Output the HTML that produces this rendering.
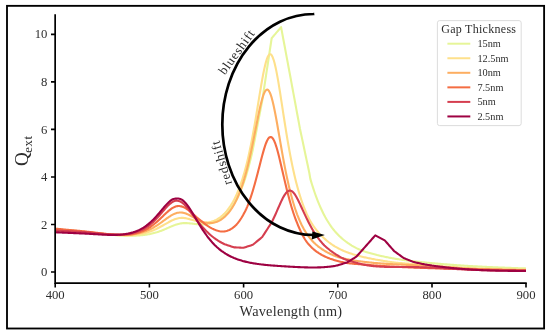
<!DOCTYPE html>
<html lang="en">
<head>
<meta charset="utf-8">
<title>Q_ext vs Wavelength</title>
<style>
html,body{margin:0;padding:0;background:#fff;}
body{width:550px;height:335px;overflow:hidden;}
svg{display:block;}
text{font-family:"Liberation Serif","DejaVu Serif",serif;fill:#2e2e2e;}
.tick{font-size:12.7px;}
.curves path{fill:none;stroke-width:2.1;stroke-linejoin:round;stroke-linecap:butt;}
</style>
</head>
<body>
<svg width="550" height="335" viewBox="0 0 550 335">
<rect x="0" y="0" width="550" height="335" fill="#ffffff"/>
<!-- outer frame -->
<rect x="7" y="5.85" width="537.1" height="322.65" fill="none" stroke="#000" stroke-width="1.85"/>
<!-- curves -->
<g class="curves">
<path d="M55.00 230.56 L55.94 230.62 L56.88 230.68 L57.83 230.74 L58.77 230.80 L59.71 230.86 L60.65 230.92 L61.59 230.98 L62.54 231.04 L63.48 231.10 L64.42 231.16 L65.36 231.22 L66.30 231.28 L67.25 231.34 L68.19 231.40 L69.13 231.46 L70.07 231.52 L71.01 231.58 L71.96 231.64 L72.90 231.70 L73.84 231.76 L74.78 231.83 L75.72 231.89 L76.67 231.95 L77.61 232.02 L78.55 232.08 L79.49 232.15 L80.43 232.21 L81.38 232.28 L82.32 232.35 L83.26 232.42 L84.20 232.48 L85.14 232.56 L86.09 232.63 L87.03 232.70 L87.97 232.77 L88.91 232.85 L89.85 232.92 L90.80 233.00 L91.74 233.07 L92.68 233.15 L93.62 233.23 L94.56 233.31 L95.51 233.39 L96.45 233.48 L97.39 233.56 L98.33 233.64 L99.27 233.73 L100.22 233.81 L101.16 233.90 L102.10 233.98 L103.04 234.07 L103.98 234.15 L104.93 234.23 L105.87 234.32 L106.81 234.40 L107.75 234.48 L108.69 234.56 L109.64 234.64 L110.58 234.72 L111.52 234.79 L112.46 234.87 L113.40 234.94 L114.35 235.01 L115.29 235.08 L116.23 235.15 L117.17 235.21 L118.11 235.27 L119.06 235.33 L120.00 235.39 L120.94 235.44 L121.88 235.49 L122.82 235.53 L123.77 235.57 L124.71 235.61 L125.65 235.64 L126.59 235.66 L127.53 235.69 L128.48 235.70 L129.42 235.71 L130.36 235.72 L131.30 235.72 L132.24 235.71 L133.19 235.70 L134.13 235.67 L135.07 235.65 L136.01 235.61 L136.95 235.57 L137.90 235.52 L138.84 235.46 L139.78 235.39 L140.72 235.31 L141.66 235.23 L142.61 235.13 L143.55 235.02 L144.49 234.91 L145.43 234.78 L146.37 234.64 L147.32 234.49 L148.26 234.33 L149.20 234.16 L150.14 233.97 L151.08 233.77 L152.03 233.55 L152.97 233.33 L153.91 233.09 L154.85 232.83 L155.79 232.56 L156.74 232.28 L157.68 231.98 L158.62 231.67 L159.56 231.34 L160.50 231.00 L161.45 230.65 L162.39 230.28 L163.33 229.91 L164.27 229.52 L165.21 229.12 L166.16 228.72 L167.10 228.31 L168.04 227.89 L168.98 227.48 L169.92 227.07 L170.87 226.66 L171.81 226.26 L172.75 225.87 L173.69 225.49 L174.63 225.14 L175.58 224.80 L176.52 224.49 L177.46 224.21 L178.40 223.95 L179.34 223.73 L180.29 223.54 L181.23 223.38 L182.17 223.26 L183.11 223.17 L184.05 223.12 L185.00 223.09 L185.94 223.09 L186.88 223.12 L187.82 223.18 L188.76 223.25 L189.71 223.33 L190.65 223.43 L191.59 223.54 L192.53 223.65 L193.47 223.77 L194.42 223.88 L195.36 223.99 L196.30 224.08 L197.24 224.17 L198.18 224.25 L199.13 224.31 L200.07 224.36 L201.01 224.39 L201.95 224.39 L202.89 224.38 L203.84 224.34 L204.78 224.28 L205.72 224.20 L206.66 224.09 L207.60 223.96 L208.55 223.80 L209.49 223.61 L210.43 223.39 L211.37 223.14 L212.31 222.86 L213.26 222.54 L214.20 222.19 L215.14 221.81 L216.08 221.39 L217.02 220.93 L217.97 220.43 L218.91 219.89 L219.85 219.31 L220.79 218.69 L221.73 218.01 L222.68 217.30 L223.62 216.53 L224.56 215.71 L225.50 214.83 L226.44 213.90 L227.39 212.91 L228.33 211.85 L229.27 210.74 L230.21 209.55 L231.15 208.29 L232.10 206.96 L233.04 205.55 L233.98 204.06 L234.92 202.48 L235.86 200.81 L236.81 199.05 L237.75 197.19 L238.69 195.22 L239.63 193.14 L240.57 190.95 L241.52 188.64 L242.46 186.20 L243.40 183.63 L244.34 180.92 L245.28 178.07 L246.23 175.07 L247.17 171.92 L248.11 168.60 L249.05 165.12 L249.99 161.47 L250.94 157.65 L251.88 153.64 L252.82 149.45 L253.76 144.57 L254.70 139.69 L255.65 134.81 L256.59 129.93 L257.53 125.04 L258.47 120.16 L259.41 115.28 L260.36 110.40 L261.30 105.52 L262.24 100.64 L263.18 94.40 L264.12 88.17 L265.07 81.93 L266.01 75.70 L266.95 69.46 L267.89 63.23 L268.83 56.99 L269.78 50.76 L270.72 44.52 L271.66 38.28 L272.60 37.17 L273.54 36.05 L274.49 34.93 L275.43 33.81 L276.37 32.69 L277.31 31.57 L278.25 30.45 L279.20 29.34 L280.14 28.22 L281.08 27.10 L282.02 32.14 L282.96 37.19 L283.91 42.23 L284.85 47.28 L285.79 52.33 L286.73 57.37 L287.67 62.42 L288.62 67.46 L289.56 72.51 L290.50 77.55 L291.44 82.65 L292.38 87.74 L293.33 92.83 L294.27 97.93 L295.21 103.02 L296.15 108.11 L297.09 113.21 L298.04 118.30 L298.98 123.39 L299.92 128.49 L300.86 132.94 L301.80 137.39 L302.75 141.84 L303.69 146.29 L304.63 150.74 L305.57 155.19 L306.51 159.64 L307.46 164.09 L308.40 168.54 L309.34 172.99 L310.28 178.59 L311.22 181.84 L312.17 184.96 L313.11 187.94 L314.05 190.79 L314.99 193.52 L315.93 196.13 L316.88 198.62 L317.82 201.01 L318.76 203.29 L319.70 205.55 L320.64 207.71 L321.59 209.78 L322.53 211.76 L323.47 213.66 L324.41 215.48 L325.35 217.23 L326.30 218.90 L327.24 220.51 L328.18 222.04 L329.12 223.52 L330.06 224.93 L331.01 226.28 L331.95 227.58 L332.89 228.82 L333.83 230.01 L334.77 231.15 L335.72 232.24 L336.66 233.28 L337.60 234.28 L338.54 235.24 L339.48 236.16 L340.43 237.05 L341.37 237.90 L342.31 238.73 L343.25 239.52 L344.19 240.29 L345.14 241.03 L346.08 241.75 L347.02 242.44 L347.96 243.10 L348.90 243.74 L349.85 244.37 L350.79 244.97 L351.73 245.55 L352.67 246.10 L353.61 246.64 L354.56 247.16 L355.50 247.65 L356.44 248.13 L357.38 248.58 L358.32 249.02 L359.27 249.44 L360.21 249.84 L361.15 250.22 L362.09 250.59 L363.03 250.95 L363.98 251.29 L364.92 251.62 L365.86 251.93 L366.80 252.23 L367.74 252.52 L368.69 252.80 L369.63 253.06 L370.57 253.32 L371.51 253.56 L372.45 253.79 L373.40 254.02 L374.34 254.23 L375.28 254.44 L376.22 254.70 L377.16 254.96 L378.11 255.20 L379.05 255.44 L379.99 255.68 L380.93 255.90 L381.87 256.13 L382.82 256.34 L383.76 256.55 L384.70 256.76 L385.64 256.96 L386.58 257.15 L387.53 257.34 L388.47 257.52 L389.41 257.70 L390.35 257.88 L391.29 258.05 L392.24 258.22 L393.18 258.38 L394.12 258.54 L395.06 258.70 L396.00 258.85 L396.95 259.00 L397.89 259.15 L398.83 259.29 L399.77 259.43 L400.71 259.57 L401.66 259.71 L402.60 259.84 L403.54 259.97 L404.48 260.10 L405.42 260.22 L406.37 260.35 L407.31 260.47 L408.25 260.59 L409.19 260.70 L410.13 260.82 L411.08 260.93 L412.02 261.05 L412.96 261.16 L413.90 261.27 L414.84 261.37 L415.79 261.48 L416.73 261.59 L417.67 261.69 L418.61 261.79 L419.55 261.89 L420.50 261.99 L421.44 262.09 L422.38 262.19 L423.32 262.29 L424.26 262.38 L425.21 262.48 L426.15 262.57 L427.09 262.67 L428.03 262.76 L428.97 262.85 L429.92 262.94 L430.86 263.03 L431.80 263.12 L432.74 263.20 L433.68 263.29 L434.63 263.38 L435.57 263.46 L436.51 263.54 L437.45 263.63 L438.39 263.71 L439.34 263.79 L440.28 263.87 L441.22 263.95 L442.16 264.03 L443.10 264.11 L444.05 264.18 L444.99 264.26 L445.93 264.34 L446.87 264.41 L447.81 264.48 L448.76 264.56 L449.70 264.63 L450.64 264.70 L451.58 264.77 L452.52 264.84 L453.47 264.91 L454.41 264.98 L455.35 265.05 L456.29 265.12 L457.23 265.19 L458.18 265.25 L459.12 265.32 L460.06 265.38 L461.00 265.44 L461.94 265.51 L462.89 265.57 L463.83 265.63 L464.77 265.69 L465.71 265.75 L466.65 265.81 L467.60 265.87 L468.54 265.93 L469.48 265.99 L470.42 266.04 L471.36 266.10 L472.31 266.15 L473.25 266.21 L474.19 266.26 L475.13 266.31 L476.07 266.37 L477.02 266.42 L477.96 266.47 L478.90 266.52 L479.84 266.57 L480.78 266.62 L481.73 266.67 L482.67 266.71 L483.61 266.76 L484.55 266.81 L485.49 266.85 L486.44 266.90 L487.38 266.94 L488.32 266.99 L489.26 267.03 L490.20 267.08 L491.15 267.12 L492.09 267.16 L493.03 267.20 L493.97 267.24 L494.91 267.29 L495.86 267.33 L496.80 267.37 L497.74 267.41 L498.68 267.45 L499.62 267.48 L500.57 267.52 L501.51 267.56 L502.45 267.60 L503.39 267.64 L504.33 267.67 L505.28 267.71 L506.22 267.75 L507.16 267.78 L508.10 267.82 L509.04 267.85 L509.99 267.89 L510.93 267.92 L511.87 267.96 L512.81 267.99 L513.75 268.02 L514.70 268.06 L515.64 268.09 L516.58 268.12 L517.52 268.16 L518.46 268.19 L519.41 268.22 L520.35 268.25 L521.29 268.29 L522.23 268.32 L523.17 268.35 L524.12 268.38 L525.06 268.41 L526.00 268.44" stroke="#e6f598"/>
<path d="M55.00 230.09 L55.94 230.15 L56.88 230.21 L57.83 230.27 L58.77 230.33 L59.71 230.39 L60.65 230.45 L61.59 230.51 L62.54 230.57 L63.48 230.63 L64.42 230.69 L65.36 230.74 L66.30 230.80 L67.25 230.86 L68.19 230.92 L69.13 230.98 L70.07 231.04 L71.01 231.10 L71.96 231.17 L72.90 231.23 L73.84 231.29 L74.78 231.36 L75.72 231.42 L76.67 231.49 L77.61 231.55 L78.55 231.62 L79.49 231.69 L80.43 231.76 L81.38 231.83 L82.32 231.90 L83.26 231.98 L84.20 232.05 L85.14 232.13 L86.09 232.21 L87.03 232.29 L87.97 232.37 L88.91 232.45 L89.85 232.54 L90.80 232.62 L91.74 232.71 L92.68 232.80 L93.62 232.89 L94.56 232.98 L95.51 233.08 L96.45 233.17 L97.39 233.27 L98.33 233.36 L99.27 233.46 L100.22 233.56 L101.16 233.66 L102.10 233.75 L103.04 233.85 L103.98 233.95 L104.93 234.04 L105.87 234.13 L106.81 234.23 L107.75 234.32 L108.69 234.41 L109.64 234.49 L110.58 234.58 L111.52 234.66 L112.46 234.74 L113.40 234.81 L114.35 234.89 L115.29 234.95 L116.23 235.02 L117.17 235.08 L118.11 235.13 L119.06 235.18 L120.00 235.22 L120.94 235.26 L121.88 235.29 L122.82 235.32 L123.77 235.33 L124.71 235.34 L125.65 235.35 L126.59 235.34 L127.53 235.33 L128.48 235.31 L129.42 235.27 L130.36 235.23 L131.30 235.18 L132.24 235.12 L133.19 235.04 L134.13 234.96 L135.07 234.86 L136.01 234.76 L136.95 234.64 L137.90 234.50 L138.84 234.36 L139.78 234.20 L140.72 234.03 L141.66 233.84 L142.61 233.64 L143.55 233.43 L144.49 233.20 L145.43 232.96 L146.37 232.70 L147.32 232.42 L148.26 232.13 L149.20 231.82 L150.14 231.49 L151.08 231.15 L152.03 230.79 L152.97 230.41 L153.91 230.02 L154.85 229.60 L155.79 229.18 L156.74 228.73 L157.68 228.27 L158.62 227.79 L159.56 227.30 L160.50 226.80 L161.45 226.29 L162.39 225.76 L163.33 225.23 L164.27 224.69 L165.21 224.15 L166.16 223.61 L167.10 223.07 L168.04 222.54 L168.98 222.02 L169.92 221.51 L170.87 221.03 L171.81 220.56 L172.75 220.12 L173.69 219.71 L174.63 219.34 L175.58 219.00 L176.52 218.70 L177.46 218.45 L178.40 218.24 L179.34 218.08 L180.29 217.97 L181.23 217.91 L182.17 217.89 L183.11 217.92 L184.05 217.99 L185.00 218.10 L185.94 218.25 L186.88 218.44 L187.82 218.65 L188.76 218.89 L189.71 219.14 L190.65 219.41 L191.59 219.70 L192.53 219.98 L193.47 220.27 L194.42 220.55 L195.36 220.83 L196.30 221.10 L197.24 221.35 L198.18 221.58 L199.13 221.79 L200.07 221.98 L201.01 222.14 L201.95 222.27 L202.89 222.37 L203.84 222.44 L204.78 222.47 L205.72 222.47 L206.66 222.43 L207.60 222.36 L208.55 222.24 L209.49 222.09 L210.43 221.90 L211.37 221.66 L212.31 221.38 L213.26 221.06 L214.20 220.69 L215.14 220.28 L216.08 219.83 L217.02 219.32 L217.97 218.77 L218.91 218.17 L219.85 217.51 L220.79 216.81 L221.73 216.04 L222.68 215.23 L223.62 214.35 L224.56 213.41 L225.50 212.41 L226.44 211.34 L227.39 210.20 L228.33 208.99 L229.27 207.70 L230.21 206.33 L231.15 204.88 L232.10 203.34 L233.04 201.71 L233.98 199.98 L234.92 198.14 L235.86 196.20 L236.81 194.14 L237.75 191.96 L238.69 189.65 L239.63 187.20 L240.57 184.61 L241.52 181.88 L242.46 178.98 L243.40 175.93 L244.34 172.70 L245.28 169.29 L246.23 165.69 L247.17 161.90 L248.11 157.91 L249.05 153.72 L249.99 149.32 L250.94 144.71 L251.88 139.91 L252.82 134.90 L253.76 129.71 L254.70 124.35 L255.65 118.83 L256.59 113.20 L257.53 107.47 L258.47 101.71 L259.41 95.95 L260.36 90.25 L261.30 84.70 L262.24 79.35 L263.18 74.31 L264.12 69.64 L265.07 65.44 L266.01 61.80 L266.95 58.80 L267.89 56.50 L268.83 54.96 L269.78 54.23 L270.72 54.33 L271.66 55.26 L272.60 57.01 L273.54 59.53 L274.49 62.77 L275.43 66.66 L276.37 71.13 L277.31 76.08 L278.25 81.44 L279.20 87.11 L280.14 93.02 L281.08 99.07 L282.02 105.21 L282.96 111.36 L283.91 117.48 L284.85 123.52 L285.79 129.44 L286.73 135.21 L287.67 140.82 L288.62 146.23 L289.56 151.45 L290.50 156.47 L291.44 161.27 L292.38 165.86 L293.33 170.25 L294.27 174.43 L295.21 178.42 L296.15 182.21 L297.09 185.81 L298.04 189.24 L298.98 192.50 L299.92 195.60 L300.86 198.54 L301.80 201.33 L302.75 203.99 L303.69 206.51 L304.63 208.91 L305.57 211.19 L306.51 213.36 L307.46 215.42 L308.40 217.39 L309.34 219.26 L310.28 220.94 L311.22 222.54 L312.17 224.05 L313.11 225.50 L314.05 226.87 L314.99 228.18 L315.93 229.43 L316.88 230.62 L317.82 231.76 L318.76 232.85 L319.70 233.90 L320.64 234.90 L321.59 235.86 L322.53 236.79 L323.47 237.68 L324.41 238.54 L325.35 239.37 L326.30 240.18 L327.24 240.97 L328.18 241.73 L329.12 242.47 L330.06 243.17 L331.01 243.85 L331.95 244.51 L332.89 245.14 L333.83 245.74 L334.77 246.33 L335.72 246.89 L336.66 247.43 L337.60 247.95 L338.54 248.45 L339.48 248.93 L340.43 249.40 L341.37 249.85 L342.31 250.28 L343.25 250.70 L344.19 251.10 L345.14 251.49 L346.08 251.87 L347.02 252.23 L347.96 252.58 L348.90 252.92 L349.85 253.25 L350.79 253.56 L351.73 253.87 L352.67 254.16 L353.61 254.45 L354.56 254.73 L355.50 255.00 L356.44 255.27 L357.38 255.53 L358.32 255.78 L359.27 256.03 L360.21 256.27 L361.15 256.50 L362.09 256.73 L363.03 256.96 L363.98 257.18 L364.92 257.39 L365.86 257.60 L366.80 257.81 L367.74 258.01 L368.69 258.21 L369.63 258.40 L370.57 258.59 L371.51 258.78 L372.45 258.96 L373.40 259.14 L374.34 259.32 L375.28 259.49 L376.22 259.67 L377.16 259.83 L378.11 260.00 L379.05 260.16 L379.99 260.32 L380.93 260.48 L381.87 260.64 L382.82 260.80 L383.76 260.95 L384.70 261.10 L385.64 261.25 L386.58 261.40 L387.53 261.54 L388.47 261.69 L389.41 261.83 L390.35 261.97 L391.29 262.11 L392.24 262.25 L393.18 262.39 L394.12 262.52 L395.06 262.61 L396.00 262.69 L396.95 262.77 L397.89 262.85 L398.83 262.93 L399.77 263.00 L400.71 263.08 L401.66 263.15 L402.60 263.23 L403.54 263.30 L404.48 263.38 L405.42 263.45 L406.37 263.52 L407.31 263.60 L408.25 263.67 L409.19 263.74 L410.13 263.81 L411.08 263.88 L412.02 263.96 L412.96 264.03 L413.90 264.10 L414.84 264.17 L415.79 264.24 L416.73 264.32 L417.67 264.39 L418.61 264.46 L419.55 264.54 L420.50 264.61 L421.44 264.68 L422.38 264.76 L423.32 264.83 L424.26 264.90 L425.21 264.98 L426.15 265.05 L427.09 265.12 L428.03 265.20 L428.97 265.27 L429.92 265.34 L430.86 265.42 L431.80 265.49 L432.74 265.56 L433.68 265.64 L434.63 265.71 L435.57 265.78 L436.51 265.86 L437.45 265.93 L438.39 266.00 L439.34 266.07 L440.28 266.14 L441.22 266.22 L442.16 266.29 L443.10 266.36 L444.05 266.43 L444.99 266.50 L445.93 266.57 L446.87 266.64 L447.81 266.70 L448.76 266.77 L449.70 266.84 L450.64 266.91 L451.58 266.97 L452.52 267.04 L453.47 267.10 L454.41 267.17 L455.35 267.23 L456.29 267.29 L457.23 267.36 L458.18 267.42 L459.12 267.48 L460.06 267.54 L461.00 267.60 L461.94 267.65 L462.89 267.71 L463.83 267.77 L464.77 267.82 L465.71 267.88 L466.65 267.93 L467.60 267.98 L468.54 268.03 L469.48 268.08 L470.42 268.13 L471.36 268.18 L472.31 268.23 L473.25 268.27 L474.19 268.31 L475.13 268.36 L476.07 268.40 L477.02 268.44 L477.96 268.48 L478.90 268.52 L479.84 268.56 L480.78 268.60 L481.73 268.63 L482.67 268.67 L483.61 268.70 L484.55 268.74 L485.49 268.77 L486.44 268.80 L487.38 268.83 L488.32 268.86 L489.26 268.89 L490.20 268.92 L491.15 268.95 L492.09 268.98 L493.03 269.00 L493.97 269.03 L494.91 269.05 L495.86 269.08 L496.80 269.10 L497.74 269.12 L498.68 269.15 L499.62 269.17 L500.57 269.19 L501.51 269.21 L502.45 269.23 L503.39 269.25 L504.33 269.27 L505.28 269.29 L506.22 269.31 L507.16 269.33 L508.10 269.34 L509.04 269.36 L509.99 269.38 L510.93 269.39 L511.87 269.41 L512.81 269.43 L513.75 269.44 L514.70 269.46 L515.64 269.47 L516.58 269.49 L517.52 269.50 L518.46 269.51 L519.41 269.53 L520.35 269.54 L521.29 269.55 L522.23 269.57 L523.17 269.58 L524.12 269.59 L525.06 269.60 L526.00 269.62" stroke="#fee08b"/>
<path d="M55.00 229.14 L55.94 229.22 L56.88 229.30 L57.83 229.38 L58.77 229.46 L59.71 229.54 L60.65 229.62 L61.59 229.70 L62.54 229.78 L63.48 229.86 L64.42 229.94 L65.36 230.01 L66.30 230.09 L67.25 230.17 L68.19 230.25 L69.13 230.33 L70.07 230.41 L71.01 230.49 L71.96 230.57 L72.90 230.65 L73.84 230.73 L74.78 230.81 L75.72 230.89 L76.67 230.97 L77.61 231.06 L78.55 231.14 L79.49 231.23 L80.43 231.31 L81.38 231.40 L82.32 231.49 L83.26 231.58 L84.20 231.67 L85.14 231.76 L86.09 231.85 L87.03 231.94 L87.97 232.04 L88.91 232.14 L89.85 232.23 L90.80 232.33 L91.74 232.43 L92.68 232.53 L93.62 232.63 L94.56 232.74 L95.51 232.84 L96.45 232.95 L97.39 233.05 L98.33 233.16 L99.27 233.26 L100.22 233.37 L101.16 233.47 L102.10 233.58 L103.04 233.68 L103.98 233.78 L104.93 233.88 L105.87 233.98 L106.81 234.07 L107.75 234.16 L108.69 234.25 L109.64 234.34 L110.58 234.42 L111.52 234.50 L112.46 234.57 L113.40 234.64 L114.35 234.71 L115.29 234.77 L116.23 234.82 L117.17 234.87 L118.11 234.91 L119.06 234.95 L120.00 234.97 L120.94 234.99 L121.88 235.01 L122.82 235.01 L123.77 235.00 L124.71 234.99 L125.65 234.96 L126.59 234.93 L127.53 234.88 L128.48 234.82 L129.42 234.75 L130.36 234.67 L131.30 234.58 L132.24 234.47 L133.19 234.34 L134.13 234.21 L135.07 234.05 L136.01 233.89 L136.95 233.70 L137.90 233.51 L138.84 233.29 L139.78 233.06 L140.72 232.81 L141.66 232.54 L142.61 232.26 L143.55 231.95 L144.49 231.63 L145.43 231.29 L146.37 230.93 L147.32 230.54 L148.26 230.14 L149.20 229.71 L150.14 229.27 L151.08 228.80 L152.03 228.31 L152.97 227.80 L153.91 227.26 L154.85 226.71 L155.79 226.14 L156.74 225.54 L157.68 224.93 L158.62 224.30 L159.56 223.66 L160.50 223.00 L161.45 222.32 L162.39 221.64 L163.33 220.95 L164.27 220.26 L165.21 219.57 L166.16 218.89 L167.10 218.21 L168.04 217.55 L168.98 216.91 L169.92 216.29 L170.87 215.70 L171.81 215.15 L172.75 214.63 L173.69 214.16 L174.63 213.75 L175.58 213.39 L176.52 213.08 L177.46 212.84 L178.40 212.67 L179.34 212.56 L180.29 212.52 L181.23 212.54 L182.17 212.63 L183.11 212.78 L184.05 213.00 L185.00 213.27 L185.94 213.59 L186.88 213.96 L187.82 214.37 L188.76 214.82 L189.71 215.29 L190.65 215.79 L191.59 216.31 L192.53 216.83 L193.47 217.36 L194.42 217.89 L195.36 218.42 L196.30 218.93 L197.24 219.43 L198.18 219.91 L199.13 220.36 L200.07 220.79 L201.01 221.19 L201.95 221.56 L202.89 221.89 L203.84 222.18 L204.78 222.44 L205.72 222.65 L206.66 222.82 L207.60 222.95 L208.55 223.04 L209.49 223.08 L210.43 223.07 L211.37 223.02 L212.31 222.92 L213.26 222.77 L214.20 222.57 L215.14 222.32 L216.08 222.03 L217.02 221.68 L217.97 221.28 L218.91 220.83 L219.85 220.32 L220.79 219.76 L221.73 219.13 L222.68 218.45 L223.62 217.71 L224.56 216.91 L225.50 216.03 L226.44 215.09 L227.39 214.08 L228.33 212.99 L229.27 211.83 L230.21 210.58 L231.15 209.25 L232.10 207.83 L233.04 206.31 L233.98 204.69 L234.92 202.97 L235.86 201.14 L236.81 199.19 L237.75 197.12 L238.69 194.93 L239.63 192.60 L240.57 190.13 L241.52 187.51 L242.46 184.74 L243.40 181.82 L244.34 178.73 L245.28 175.47 L246.23 172.04 L247.17 168.43 L248.11 164.65 L249.05 160.69 L249.99 156.56 L250.94 152.27 L251.88 147.83 L252.82 143.25 L253.76 138.57 L254.70 133.80 L255.65 128.99 L256.59 124.19 L257.53 119.43 L258.47 114.79 L259.41 110.32 L260.36 106.10 L261.30 102.21 L262.24 98.71 L263.18 95.69 L264.12 93.22 L265.07 91.35 L266.01 90.15 L266.95 89.64 L267.89 89.85 L268.83 90.78 L269.78 92.42 L270.72 94.74 L271.66 97.69 L272.60 101.21 L273.54 105.23 L274.49 109.67 L275.43 114.47 L276.37 119.54 L277.31 124.80 L278.25 130.20 L279.20 135.66 L280.14 141.12 L281.08 146.55 L282.02 151.89 L282.96 157.12 L283.91 162.21 L284.85 167.13 L285.79 171.88 L286.73 176.44 L287.67 180.81 L288.62 184.99 L289.56 188.97 L290.50 192.75 L291.44 196.35 L292.38 199.76 L293.33 202.99 L294.27 206.05 L295.21 208.95 L296.15 211.68 L297.09 214.27 L298.04 216.71 L298.98 219.02 L299.92 221.20 L300.86 223.26 L301.80 225.21 L302.75 227.04 L303.69 228.78 L304.63 230.42 L305.57 231.96 L306.51 233.43 L307.46 234.81 L308.40 236.13 L309.34 237.37 L310.28 238.54 L311.22 239.66 L312.17 240.72 L313.11 241.72 L314.05 242.68 L314.99 243.58 L315.93 244.45 L316.88 245.27 L317.82 246.06 L318.76 246.81 L319.70 247.53 L320.64 248.22 L321.59 248.88 L322.53 249.51 L323.47 250.11 L324.41 250.70 L325.35 251.26 L326.30 251.79 L327.24 252.31 L328.18 252.81 L329.12 253.29 L330.06 253.75 L331.01 254.19 L331.95 254.62 L332.89 255.03 L333.83 255.43 L334.77 255.81 L335.72 256.18 L336.66 256.54 L337.60 256.88 L338.54 257.16 L339.48 257.43 L340.43 257.68 L341.37 257.93 L342.31 258.16 L343.25 258.39 L344.19 258.61 L345.14 258.81 L346.08 259.02 L347.02 259.21 L347.96 259.39 L348.90 259.57 L349.85 259.75 L350.79 259.91 L351.73 260.08 L352.67 260.23 L353.61 260.38 L354.56 260.53 L355.50 260.67 L356.44 260.81 L357.38 260.94 L358.32 261.08 L359.27 261.20 L360.21 261.33 L361.15 261.45 L362.09 261.57 L363.03 261.69 L363.98 261.81 L364.92 261.92 L365.86 262.04 L366.80 262.15 L367.74 262.26 L368.69 262.37 L369.63 262.47 L370.57 262.57 L371.51 262.66 L372.45 262.76 L373.40 262.85 L374.34 262.93 L375.28 263.01 L376.22 263.09 L377.16 263.17 L378.11 263.25 L379.05 263.32 L379.99 263.39 L380.93 263.46 L381.87 263.53 L382.82 263.59 L383.76 263.65 L384.70 263.72 L385.64 263.77 L386.58 263.83 L387.53 263.89 L388.47 263.94 L389.41 264.00 L390.35 264.05 L391.29 264.10 L392.24 264.15 L393.18 264.20 L394.12 264.25 L395.06 264.30 L396.00 264.35 L396.95 264.39 L397.89 264.44 L398.83 264.48 L399.77 264.53 L400.71 264.57 L401.66 264.62 L402.60 264.66 L403.54 264.70 L404.48 264.75 L405.42 264.79 L406.37 264.83 L407.31 264.88 L408.25 264.92 L409.19 264.97 L410.13 265.01 L411.08 265.06 L412.02 265.10 L412.96 265.15 L413.90 265.19 L414.84 265.24 L415.79 265.29 L416.73 265.33 L417.67 265.38 L418.61 265.43 L419.55 265.48 L420.50 265.54 L421.44 265.59 L422.38 265.64 L423.32 265.69 L424.26 265.75 L425.21 265.80 L426.15 265.86 L427.09 265.92 L428.03 265.97 L428.97 266.03 L429.92 266.09 L430.86 266.15 L431.80 266.21 L432.74 266.27 L433.68 266.33 L434.63 266.39 L435.57 266.45 L436.51 266.51 L437.45 266.57 L438.39 266.63 L439.34 266.69 L440.28 266.76 L441.22 266.82 L442.16 266.88 L443.10 266.95 L444.05 267.01 L444.99 267.07 L445.93 267.14 L446.87 267.20 L447.81 267.27 L448.76 267.33 L449.70 267.40 L450.64 267.46 L451.58 267.52 L452.52 267.59 L453.47 267.65 L454.41 267.72 L455.35 267.78 L456.29 267.85 L457.23 267.91 L458.18 267.97 L459.12 268.04 L460.06 268.10 L461.00 268.16 L461.94 268.23 L462.89 268.29 L463.83 268.35 L464.77 268.41 L465.71 268.47 L466.65 268.53 L467.60 268.59 L468.54 268.65 L469.48 268.71 L470.42 268.75 L471.36 268.78 L472.31 268.82 L473.25 268.85 L474.19 268.89 L475.13 268.92 L476.07 268.95 L477.02 268.99 L477.96 269.02 L478.90 269.05 L479.84 269.08 L480.78 269.11 L481.73 269.14 L482.67 269.17 L483.61 269.20 L484.55 269.22 L485.49 269.25 L486.44 269.28 L487.38 269.30 L488.32 269.33 L489.26 269.36 L490.20 269.38 L491.15 269.41 L492.09 269.43 L493.03 269.45 L493.97 269.48 L494.91 269.50 L495.86 269.52 L496.80 269.54 L497.74 269.56 L498.68 269.59 L499.62 269.61 L500.57 269.63 L501.51 269.65 L502.45 269.67 L503.39 269.69 L504.33 269.71 L505.28 269.73 L506.22 269.74 L507.16 269.76 L508.10 269.78 L509.04 269.80 L509.99 269.82 L510.93 269.83 L511.87 269.85 L512.81 269.87 L513.75 269.88 L514.70 269.90 L515.64 269.92 L516.58 269.93 L517.52 269.95 L518.46 269.96 L519.41 269.98 L520.35 270.00 L521.29 270.01 L522.23 270.03 L523.17 270.04 L524.12 270.06 L525.06 270.07 L526.00 270.08" stroke="#fdae61"/>
<path d="M55.00 228.65 L55.94 228.74 L56.88 228.83 L57.83 228.91 L58.77 229.00 L59.71 229.09 L60.65 229.17 L61.59 229.26 L62.54 229.34 L63.48 229.43 L64.42 229.51 L65.36 229.60 L66.30 229.68 L67.25 229.77 L68.19 229.85 L69.13 229.94 L70.07 230.02 L71.01 230.11 L71.96 230.20 L72.90 230.28 L73.84 230.37 L74.78 230.46 L75.72 230.55 L76.67 230.64 L77.61 230.73 L78.55 230.82 L79.49 230.91 L80.43 231.01 L81.38 231.10 L82.32 231.20 L83.26 231.29 L84.20 231.39 L85.14 231.49 L86.09 231.59 L87.03 231.69 L87.97 231.80 L88.91 231.90 L89.85 232.01 L90.80 232.12 L91.74 232.23 L92.68 232.34 L93.62 232.45 L94.56 232.56 L95.51 232.68 L96.45 232.79 L97.39 232.91 L98.33 233.02 L99.27 233.14 L100.22 233.25 L101.16 233.36 L102.10 233.48 L103.04 233.59 L103.98 233.70 L104.93 233.80 L105.87 233.91 L106.81 234.01 L107.75 234.11 L108.69 234.20 L109.64 234.29 L110.58 234.38 L111.52 234.46 L112.46 234.54 L113.40 234.61 L114.35 234.68 L115.29 234.74 L116.23 234.79 L117.17 234.83 L118.11 234.87 L119.06 234.90 L120.00 234.92 L120.94 234.93 L121.88 234.93 L122.82 234.92 L123.77 234.90 L124.71 234.87 L125.65 234.82 L126.59 234.76 L127.53 234.69 L128.48 234.61 L129.42 234.51 L130.36 234.39 L131.30 234.26 L132.24 234.11 L133.19 233.94 L134.13 233.76 L135.07 233.55 L136.01 233.33 L136.95 233.08 L137.90 232.81 L138.84 232.52 L139.78 232.21 L140.72 231.87 L141.66 231.51 L142.61 231.12 L143.55 230.71 L144.49 230.27 L145.43 229.80 L146.37 229.31 L147.32 228.78 L148.26 228.23 L149.20 227.64 L150.14 227.03 L151.08 226.39 L152.03 225.71 L152.97 225.01 L153.91 224.28 L154.85 223.52 L155.79 222.73 L156.74 221.92 L157.68 221.09 L158.62 220.23 L159.56 219.36 L160.50 218.47 L161.45 217.57 L162.39 216.66 L163.33 215.75 L164.27 214.85 L165.21 213.95 L166.16 213.06 L167.10 212.20 L168.04 211.37 L168.98 210.57 L169.92 209.81 L170.87 209.11 L171.81 208.46 L172.75 207.88 L173.69 207.37 L174.63 206.94 L175.58 206.59 L176.52 206.32 L177.46 206.15 L178.40 206.07 L179.34 206.07 L180.29 206.17 L181.23 206.36 L182.17 206.63 L183.11 206.98 L184.05 207.41 L185.00 207.91 L185.94 208.47 L186.88 209.09 L187.82 209.77 L188.76 210.48 L189.71 211.23 L190.65 212.01 L191.59 212.80 L192.53 213.62 L193.47 214.44 L194.42 215.27 L195.36 216.10 L196.30 216.92 L197.24 217.74 L198.18 218.54 L199.13 219.32 L200.07 220.09 L201.01 220.83 L201.95 221.63 L202.89 222.40 L203.84 223.15 L204.78 223.87 L205.72 224.56 L206.66 225.22 L207.60 225.86 L208.55 226.47 L209.49 227.04 L210.43 227.59 L211.37 228.10 L212.31 228.59 L213.26 229.03 L214.20 229.46 L215.14 229.85 L216.08 230.22 L217.02 230.55 L217.97 230.85 L218.91 231.10 L219.85 231.30 L220.79 231.44 L221.73 231.52 L222.68 231.54 L223.62 231.50 L224.56 231.39 L225.50 231.22 L226.44 230.99 L227.39 230.70 L228.33 230.35 L229.27 229.94 L230.21 229.47 L231.15 228.94 L232.10 228.34 L233.04 227.67 L233.98 226.94 L234.92 226.12 L235.86 225.21 L236.81 224.19 L237.75 223.09 L238.69 221.89 L239.63 220.61 L240.57 219.23 L241.52 217.77 L242.46 216.22 L243.40 214.59 L244.34 212.85 L245.28 210.98 L246.23 208.98 L247.17 206.83 L248.11 204.53 L249.05 202.08 L249.99 199.47 L250.94 196.71 L251.88 193.78 L252.82 190.69 L253.76 187.48 L254.70 184.17 L255.65 180.77 L256.59 177.27 L257.53 173.70 L258.47 170.07 L259.41 166.41 L260.36 162.74 L261.30 159.10 L262.24 155.54 L263.18 152.10 L264.12 148.85 L265.07 145.86 L266.01 143.22 L266.95 140.99 L267.89 139.21 L268.83 137.93 L269.78 137.17 L270.72 136.96 L271.66 137.29 L272.60 138.18 L273.54 139.61 L274.49 141.55 L275.43 143.97 L276.37 146.83 L277.31 150.07 L278.25 153.60 L279.20 157.34 L280.14 161.23 L281.08 165.23 L282.02 169.28 L282.96 173.34 L283.91 177.38 L284.85 181.38 L285.79 185.31 L286.73 189.16 L287.67 192.92 L288.62 196.58 L289.56 200.12 L290.50 203.51 L291.44 206.73 L292.38 209.80 L293.33 212.71 L294.27 215.47 L295.21 218.08 L296.15 220.57 L297.09 222.98 L298.04 225.30 L298.98 227.52 L299.92 229.64 L300.86 231.67 L301.80 233.60 L302.75 235.42 L303.69 237.13 L304.63 238.73 L305.57 240.22 L306.51 241.59 L307.46 242.83 L308.40 243.97 L309.34 245.06 L310.28 246.08 L311.22 247.04 L312.17 247.95 L313.11 248.81 L314.05 249.62 L314.99 250.39 L315.93 251.12 L316.88 251.82 L317.82 252.47 L318.76 253.10 L319.70 253.69 L320.64 254.25 L321.59 254.79 L322.53 255.30 L323.47 255.79 L324.41 256.26 L325.35 256.70 L326.30 257.12 L327.24 257.53 L328.18 257.91 L329.12 258.28 L330.06 258.64 L331.01 258.97 L331.95 259.30 L332.89 259.61 L333.83 259.91 L334.77 260.19 L335.72 260.47 L336.66 260.73 L337.60 260.98 L338.54 261.23 L339.48 261.46 L340.43 261.68 L341.37 261.90 L342.31 262.11 L343.25 262.31 L344.19 262.49 L345.14 262.66 L346.08 262.82 L347.02 262.97 L347.96 263.10 L348.90 263.23 L349.85 263.35 L350.79 263.46 L351.73 263.56 L352.67 263.66 L353.61 263.75 L354.56 263.84 L355.50 263.92 L356.44 264.00 L357.38 264.07 L358.32 264.15 L359.27 264.22 L360.21 264.29 L361.15 264.36 L362.09 264.43 L363.03 264.51 L363.98 264.58 L364.92 264.66 L365.86 264.74 L366.80 264.83 L367.74 264.91 L368.69 264.99 L369.63 265.06 L370.57 265.14 L371.51 265.21 L372.45 265.29 L373.40 265.36 L374.34 265.43 L375.28 265.50 L376.22 265.56 L377.16 265.63 L378.11 265.69 L379.05 265.76 L379.99 265.82 L380.93 265.88 L381.87 265.94 L382.82 266.00 L383.76 266.06 L384.70 266.12 L385.64 266.18 L386.58 266.23 L387.53 266.29 L388.47 266.34 L389.41 266.40 L390.35 266.45 L391.29 266.50 L392.24 266.56 L393.18 266.61 L394.12 266.66 L395.06 266.71 L396.00 266.76 L396.95 266.80 L397.89 266.85 L398.83 266.90 L399.77 266.95 L400.71 266.99 L401.66 267.04 L402.60 267.08 L403.54 267.13 L404.48 267.17 L405.42 267.21 L406.37 267.26 L407.31 267.30 L408.25 267.34 L409.19 267.38 L410.13 267.42 L411.08 267.46 L412.02 267.50 L412.96 267.54 L413.90 267.58 L414.84 267.61 L415.79 267.65 L416.73 267.69 L417.67 267.72 L418.61 267.76 L419.55 267.79 L420.50 267.83 L421.44 267.86 L422.38 267.90 L423.32 267.93 L424.26 267.97 L425.21 268.00 L426.15 268.03 L427.09 268.06 L428.03 268.10 L428.97 268.13 L429.92 268.16 L430.86 268.19 L431.80 268.22 L432.74 268.25 L433.68 268.28 L434.63 268.31 L435.57 268.34 L436.51 268.37 L437.45 268.40 L438.39 268.43 L439.34 268.46 L440.28 268.48 L441.22 268.51 L442.16 268.54 L443.10 268.56 L444.05 268.59 L444.99 268.62 L445.93 268.64 L446.87 268.67 L447.81 268.69 L448.76 268.72 L449.70 268.74 L450.64 268.76 L451.58 268.79 L452.52 268.81 L453.47 268.83 L454.41 268.86 L455.35 268.88 L456.29 268.90 L457.23 268.92 L458.18 268.94 L459.12 268.96 L460.06 268.98 L461.00 269.00 L461.94 269.02 L462.89 269.04 L463.83 269.05 L464.77 269.07 L465.71 269.09 L466.65 269.11 L467.60 269.12 L468.54 269.14 L469.48 269.15 L470.42 269.18 L471.36 269.21 L472.31 269.24 L473.25 269.26 L474.19 269.29 L475.13 269.32 L476.07 269.34 L477.02 269.37 L477.96 269.39 L478.90 269.41 L479.84 269.44 L480.78 269.46 L481.73 269.49 L482.67 269.51 L483.61 269.53 L484.55 269.56 L485.49 269.58 L486.44 269.60 L487.38 269.62 L488.32 269.64 L489.26 269.66 L490.20 269.68 L491.15 269.71 L492.09 269.73 L493.03 269.75 L493.97 269.77 L494.91 269.79 L495.86 269.80 L496.80 269.82 L497.74 269.84 L498.68 269.86 L499.62 269.88 L500.57 269.90 L501.51 269.92 L502.45 269.93 L503.39 269.95 L504.33 269.97 L505.28 269.99 L506.22 270.00 L507.16 270.02 L508.10 270.04 L509.04 270.05 L509.99 270.07 L510.93 270.09 L511.87 270.10 L512.81 270.12 L513.75 270.14 L514.70 270.15 L515.64 270.17 L516.58 270.18 L517.52 270.20 L518.46 270.21 L519.41 270.23 L520.35 270.24 L521.29 270.26 L522.23 270.27 L523.17 270.29 L524.12 270.30 L525.06 270.32 L526.00 270.33" stroke="#f46d43"/>
<path d="M55.00 230.49 L55.94 230.54 L56.88 230.59 L57.83 230.64 L58.77 230.68 L59.71 230.73 L60.65 230.78 L61.59 230.83 L62.54 230.88 L63.48 230.93 L64.42 230.98 L65.36 231.02 L66.30 231.07 L67.25 231.12 L68.19 231.17 L69.13 231.22 L70.07 231.27 L71.01 231.32 L71.96 231.37 L72.90 231.42 L73.84 231.47 L74.78 231.53 L75.72 231.58 L76.67 231.64 L77.61 231.69 L78.55 231.75 L79.49 231.80 L80.43 231.86 L81.38 231.92 L82.32 231.98 L83.26 232.04 L84.20 232.10 L85.14 232.17 L86.09 232.24 L87.03 232.31 L87.97 232.39 L88.91 232.47 L89.85 232.55 L90.80 232.64 L91.74 232.73 L92.68 232.82 L93.62 232.92 L94.56 233.01 L95.51 233.11 L96.45 233.21 L97.39 233.31 L98.33 233.41 L99.27 233.50 L100.22 233.60 L101.16 233.70 L102.10 233.79 L103.04 233.89 L103.98 233.98 L104.93 234.06 L105.87 234.15 L106.81 234.22 L107.75 234.30 L108.69 234.37 L109.64 234.43 L110.58 234.49 L111.52 234.54 L112.46 234.58 L113.40 234.61 L114.35 234.64 L115.29 234.65 L116.23 234.66 L117.17 234.66 L118.11 234.65 L119.06 234.63 L120.00 234.60 L120.94 234.56 L121.88 234.52 L122.82 234.46 L123.77 234.39 L124.71 234.31 L125.65 234.22 L126.59 234.12 L127.53 234.00 L128.48 233.87 L129.42 233.72 L130.36 233.55 L131.30 233.37 L132.24 233.18 L133.19 232.96 L134.13 232.72 L135.07 232.46 L136.01 232.18 L136.95 231.88 L137.90 231.55 L138.84 231.20 L139.78 230.82 L140.72 230.41 L141.66 229.98 L142.61 229.51 L143.55 229.01 L144.49 228.48 L145.43 227.92 L146.37 227.32 L147.32 226.69 L148.26 226.02 L149.20 225.32 L150.14 224.58 L151.08 223.80 L152.03 222.98 L152.97 222.13 L153.91 221.24 L154.85 220.31 L155.79 219.35 L156.74 218.36 L157.68 217.34 L158.62 216.29 L159.56 215.22 L160.50 214.13 L161.45 213.03 L162.39 211.92 L163.33 210.82 L164.27 209.72 L165.21 208.64 L166.16 207.58 L167.10 206.57 L168.04 205.59 L168.98 204.68 L169.92 203.83 L170.87 203.07 L171.81 202.39 L172.75 201.81 L173.69 201.35 L174.63 200.99 L175.58 200.76 L176.52 200.66 L177.46 200.69 L178.40 200.84 L179.34 201.13 L180.29 201.53 L181.23 202.06 L182.17 202.70 L183.11 203.45 L184.05 204.29 L185.00 205.22 L185.94 206.23 L186.88 207.30 L187.82 208.43 L188.76 209.60 L189.71 210.81 L190.65 212.04 L191.59 213.29 L192.53 214.55 L193.47 215.81 L194.42 217.07 L195.36 218.31 L196.30 219.54 L197.24 220.76 L198.18 221.95 L199.13 223.12 L200.07 224.26 L201.01 225.38 L201.95 226.46 L202.89 227.52 L203.84 228.55 L204.78 229.55 L205.72 230.52 L206.66 231.46 L207.60 232.37 L208.55 233.25 L209.49 234.11 L210.43 234.93 L211.37 235.73 L212.31 236.51 L213.26 237.25 L214.20 237.97 L215.14 238.66 L216.08 239.32 L217.02 239.96 L217.97 240.58 L218.91 241.17 L219.85 241.73 L220.79 242.27 L221.73 242.79 L222.68 243.28 L223.62 243.75 L224.56 244.20 L225.50 244.51 L226.44 244.82 L227.39 245.14 L228.33 245.45 L229.27 245.76 L230.21 246.08 L231.15 246.39 L232.10 246.70 L233.04 247.01 L233.98 247.33 L234.92 247.37 L235.86 247.42 L236.81 247.47 L237.75 247.51 L238.69 247.56 L239.63 247.60 L240.57 247.65 L241.52 247.69 L242.46 247.74 L243.40 247.79 L244.34 247.49 L245.28 247.18 L246.23 246.88 L247.17 246.58 L248.11 246.28 L249.05 245.98 L249.99 245.68 L250.94 245.38 L251.88 245.08 L252.82 244.78 L253.76 244.00 L254.70 243.23 L255.65 242.45 L256.59 241.67 L257.53 240.90 L258.47 240.12 L259.41 239.34 L260.36 238.57 L261.30 237.79 L262.24 237.01 L263.18 235.55 L264.12 234.09 L265.07 232.63 L266.01 231.17 L266.95 229.71 L267.89 228.25 L268.83 226.79 L269.78 225.33 L270.72 223.87 L271.66 222.41 L272.60 220.52 L273.54 218.56 L274.49 216.53 L275.43 214.46 L276.37 212.33 L277.31 210.18 L278.25 208.02 L279.20 205.87 L280.14 203.74 L281.08 201.68 L282.02 199.70 L282.96 197.84 L283.91 196.13 L284.85 194.60 L285.79 193.28 L286.73 192.20 L287.67 191.37 L288.62 190.83 L289.56 190.58 L290.50 190.62 L291.44 190.95 L292.38 191.57 L293.33 192.46 L294.27 193.59 L295.21 194.93 L296.15 196.47 L297.09 198.17 L298.04 200.00 L298.98 201.93 L299.92 203.92 L300.86 205.96 L301.80 208.03 L302.75 210.09 L303.69 212.13 L304.63 214.15 L305.57 216.14 L306.51 218.11 L307.46 220.06 L308.40 221.96 L309.34 223.81 L310.28 225.60 L311.22 227.33 L312.17 229.00 L313.11 230.59 L314.05 232.10 L314.99 233.55 L315.93 234.96 L316.88 236.31 L317.82 237.62 L318.76 238.88 L319.70 240.10 L320.64 241.26 L321.59 242.38 L322.53 243.45 L323.47 244.46 L324.41 245.43 L325.35 246.34 L326.30 247.19 L327.24 248.00 L328.18 248.79 L329.12 249.55 L330.06 250.29 L331.01 251.00 L331.95 251.69 L332.89 252.36 L333.83 253.01 L334.77 253.64 L335.72 254.26 L336.66 254.86 L337.60 255.44 L338.54 256.00 L339.48 256.55 L340.43 257.08 L341.37 257.59 L342.31 258.06 L343.25 258.50 L344.19 258.92 L345.14 259.30 L346.08 259.67 L347.02 260.01 L347.96 260.33 L348.90 260.64 L349.85 260.94 L350.79 261.22 L351.73 261.50 L352.67 261.77 L353.61 262.04 L354.56 262.30 L355.50 262.57 L356.44 262.85 L357.38 263.12 L358.32 263.38 L359.27 263.62 L360.21 263.86 L361.15 264.08 L362.09 264.29 L363.03 264.49 L363.98 264.68 L364.92 264.86 L365.86 265.03 L366.80 265.20 L367.74 265.35 L368.69 265.49 L369.63 265.63 L370.57 265.76 L371.51 265.88 L372.45 265.99 L373.40 266.09 L374.34 266.19 L375.28 266.28 L376.22 266.36 L377.16 266.44 L378.11 266.51 L379.05 266.57 L379.99 266.63 L380.93 266.69 L381.87 266.73 L382.82 266.78 L383.76 266.82 L384.70 266.85 L385.64 266.88 L386.58 266.91 L387.53 266.94 L388.47 266.96 L389.41 266.97 L390.35 266.99 L391.29 267.00 L392.24 267.01 L393.18 267.02 L394.12 267.03 L395.06 267.03 L396.00 267.03 L396.95 267.03 L397.89 267.03 L398.83 267.03 L399.77 267.03 L400.71 267.03 L401.66 267.03 L402.60 267.03 L403.54 267.03 L404.48 267.02 L405.42 267.02 L406.37 267.02 L407.31 267.02 L408.25 267.03 L409.19 267.03 L410.13 267.03 L411.08 267.04 L412.02 267.05 L412.96 267.06 L413.90 267.07 L414.84 267.09 L415.79 267.11 L416.73 267.13 L417.67 267.15 L418.61 267.17 L419.55 267.20 L420.50 267.22 L421.44 267.25 L422.38 267.28 L423.32 267.32 L424.26 267.35 L425.21 267.39 L426.15 267.42 L427.09 267.46 L428.03 267.50 L428.97 267.54 L429.92 267.59 L430.86 267.63 L431.80 267.68 L432.74 267.72 L433.68 267.77 L434.63 267.82 L435.57 267.87 L436.51 267.92 L437.45 267.97 L438.39 268.02 L439.34 268.07 L440.28 268.12 L441.22 268.18 L442.16 268.23 L443.10 268.28 L444.05 268.34 L444.99 268.39 L445.93 268.45 L446.87 268.50 L447.81 268.56 L448.76 268.61 L449.70 268.66 L450.64 268.72 L451.58 268.77 L452.52 268.83 L453.47 268.88 L454.41 268.93 L455.35 268.98 L456.29 269.04 L457.23 269.09 L458.18 269.14 L459.12 269.19 L460.06 269.23 L461.00 269.28 L461.94 269.33 L462.89 269.37 L463.83 269.42 L464.77 269.46 L465.71 269.50 L466.65 269.54 L467.60 269.58 L468.54 269.62 L469.48 269.65 L470.42 269.70 L471.36 269.74 L472.31 269.79 L473.25 269.83 L474.19 269.87 L475.13 269.91 L476.07 269.94 L477.02 269.98 L477.96 270.01 L478.90 270.04 L479.84 270.08 L480.78 270.11 L481.73 270.13 L482.67 270.16 L483.61 270.19 L484.55 270.21 L485.49 270.24 L486.44 270.26 L487.38 270.28 L488.32 270.30 L489.26 270.32 L490.20 270.34 L491.15 270.36 L492.09 270.37 L493.03 270.39 L493.97 270.40 L494.91 270.42 L495.86 270.43 L496.80 270.44 L497.74 270.45 L498.68 270.46 L499.62 270.47 L500.57 270.48 L501.51 270.49 L502.45 270.49 L503.39 270.50 L504.33 270.51 L505.28 270.51 L506.22 270.52 L507.16 270.52 L508.10 270.52 L509.04 270.53 L509.99 270.53 L510.93 270.53 L511.87 270.53 L512.81 270.53 L513.75 270.53 L514.70 270.53 L515.64 270.53 L516.58 270.53 L517.52 270.53 L518.46 270.53 L519.41 270.53 L520.35 270.53 L521.29 270.52 L522.23 270.52 L523.17 270.52 L524.12 270.52 L525.06 270.52 L526.00 270.51" stroke="#d53e4f"/>
<path d="M55.00 232.24 L55.94 232.28 L56.88 232.33 L57.83 232.38 L58.77 232.42 L59.71 232.47 L60.65 232.51 L61.59 232.55 L62.54 232.59 L63.48 232.63 L64.42 232.68 L65.36 232.72 L66.30 232.76 L67.25 232.80 L68.19 232.84 L69.13 232.88 L70.07 232.92 L71.01 232.96 L71.96 233.00 L72.90 233.04 L73.84 233.08 L74.78 233.12 L75.72 233.16 L76.67 233.21 L77.61 233.25 L78.55 233.29 L79.49 233.34 L80.43 233.38 L81.38 233.43 L82.32 233.47 L83.26 233.52 L84.20 233.57 L85.14 233.61 L86.09 233.66 L87.03 233.71 L87.97 233.76 L88.91 233.82 L89.85 233.87 L90.80 233.92 L91.74 233.98 L92.68 234.03 L93.62 234.09 L94.56 234.14 L95.51 234.20 L96.45 234.26 L97.39 234.32 L98.33 234.37 L99.27 234.43 L100.22 234.48 L101.16 234.53 L102.10 234.58 L103.04 234.63 L103.98 234.68 L104.93 234.72 L105.87 234.76 L106.81 234.80 L107.75 234.83 L108.69 234.86 L109.64 234.88 L110.58 234.90 L111.52 234.91 L112.46 234.92 L113.40 234.92 L114.35 234.91 L115.29 234.90 L116.23 234.87 L117.17 234.84 L118.11 234.80 L119.06 234.75 L120.00 234.69 L120.94 234.61 L121.88 234.53 L122.82 234.43 L123.77 234.32 L124.71 234.20 L125.65 234.06 L126.59 233.91 L127.53 233.74 L128.48 233.55 L129.42 233.35 L130.36 233.13 L131.30 232.88 L132.24 232.62 L133.19 232.34 L134.13 232.03 L135.07 231.70 L136.01 231.35 L136.95 230.97 L137.90 230.57 L138.84 230.14 L139.78 229.68 L140.72 229.19 L141.66 228.67 L142.61 228.12 L143.55 227.54 L144.49 226.93 L145.43 226.29 L146.37 225.61 L147.32 224.89 L148.26 224.15 L149.20 223.36 L150.14 222.54 L151.08 221.69 L152.03 220.80 L152.97 219.88 L153.91 218.93 L154.85 217.94 L155.79 216.93 L156.74 215.88 L157.68 214.81 L158.62 213.72 L159.56 212.62 L160.50 211.50 L161.45 210.37 L162.39 209.24 L163.33 208.11 L164.27 207.00 L165.21 205.92 L166.16 204.87 L167.10 203.86 L168.04 202.90 L168.98 202.01 L169.92 201.18 L170.87 200.44 L171.81 199.78 L172.75 199.28 L173.69 198.96 L174.63 198.77 L175.58 198.66 L176.52 198.58 L177.46 198.53 L178.40 198.55 L179.34 198.67 L180.29 198.93 L181.23 199.36 L182.17 199.94 L183.11 200.64 L184.05 201.47 L185.00 202.41 L185.94 203.45 L186.88 204.59 L187.82 205.83 L188.76 207.14 L189.71 208.53 L190.65 209.98 L191.59 211.48 L192.53 213.03 L193.47 214.60 L194.42 216.18 L195.36 217.77 L196.30 219.37 L197.24 220.96 L198.18 222.53 L199.13 224.09 L200.07 225.63 L201.01 227.14 L201.95 228.62 L202.89 230.07 L203.84 231.48 L204.78 232.86 L205.72 234.20 L206.66 235.50 L207.60 236.76 L208.55 237.98 L209.49 239.16 L210.43 240.29 L211.37 241.39 L212.31 242.45 L213.26 243.47 L214.20 244.45 L215.14 245.40 L216.08 246.30 L217.02 247.18 L217.97 248.01 L218.91 248.82 L219.85 249.59 L220.79 250.33 L221.73 251.04 L222.68 251.72 L223.62 252.37 L224.56 253.00 L225.50 253.60 L226.44 254.17 L227.39 254.72 L228.33 255.24 L229.27 255.75 L230.21 256.23 L231.15 256.69 L232.10 257.13 L233.04 257.55 L233.98 257.96 L234.92 258.34 L235.86 258.71 L236.81 259.07 L237.75 259.40 L238.69 259.73 L239.63 260.04 L240.57 260.33 L241.52 260.62 L242.46 260.89 L243.40 261.15 L244.34 261.39 L245.28 261.63 L246.23 261.86 L247.17 262.08 L248.11 262.29 L249.05 262.48 L249.99 262.68 L250.94 262.86 L251.88 263.03 L252.82 263.20 L253.76 263.36 L254.70 263.51 L255.65 263.66 L256.59 263.80 L257.53 263.94 L258.47 264.07 L259.41 264.19 L260.36 264.31 L261.30 264.43 L262.24 264.54 L263.18 264.64 L264.12 264.75 L265.07 264.84 L266.01 264.94 L266.95 265.03 L267.89 265.12 L268.83 265.20 L269.78 265.28 L270.72 265.36 L271.66 265.44 L272.60 265.52 L273.54 265.59 L274.49 265.66 L275.43 265.73 L276.37 265.80 L277.31 265.86 L278.25 265.93 L279.20 265.99 L280.14 266.06 L281.08 266.12 L282.02 266.18 L282.96 266.24 L283.91 266.30 L284.85 266.36 L285.79 266.42 L286.73 266.48 L287.67 266.54 L288.62 266.59 L289.56 266.65 L290.50 266.70 L291.44 266.75 L292.38 266.81 L293.33 266.86 L294.27 266.91 L295.21 266.95 L296.15 267.00 L297.09 267.05 L298.04 267.09 L298.98 267.13 L299.92 267.17 L300.86 267.21 L301.80 267.24 L302.75 267.28 L303.69 267.31 L304.63 267.34 L305.57 267.36 L306.51 267.39 L307.46 267.41 L308.40 267.43 L309.34 267.44 L310.28 267.46 L311.22 267.47 L312.17 267.47 L313.11 267.47 L314.05 267.47 L314.99 267.46 L315.93 267.45 L316.88 267.44 L317.82 267.42 L318.76 267.39 L319.70 267.36 L320.64 267.33 L321.59 267.29 L322.53 267.24 L323.47 267.19 L324.41 267.13 L325.35 267.06 L326.30 266.99 L327.24 266.91 L328.18 266.82 L329.12 266.72 L330.06 266.62 L331.01 266.50 L331.95 266.38 L332.89 266.24 L333.83 266.10 L334.77 265.94 L335.72 265.77 L336.66 265.59 L337.60 265.39 L338.54 265.09 L339.48 264.80 L340.43 264.50 L341.37 264.21 L342.31 263.92 L343.25 263.62 L344.19 263.33 L345.14 263.03 L346.08 262.74 L347.02 262.44 L347.96 261.86 L348.90 261.28 L349.85 260.69 L350.79 260.11 L351.73 259.53 L352.67 258.94 L353.61 258.36 L354.56 257.78 L355.50 257.20 L356.44 256.61 L357.38 255.56 L358.32 254.50 L359.27 253.45 L360.21 252.39 L361.15 251.34 L362.09 250.28 L363.03 249.22 L363.98 248.17 L364.92 247.11 L365.86 246.06 L366.80 244.99 L367.74 243.92 L368.69 242.84 L369.63 241.77 L370.57 240.70 L371.51 239.63 L372.45 238.56 L373.40 237.49 L374.34 236.42 L375.28 235.35 L376.22 235.85 L377.16 236.35 L378.11 236.85 L379.05 237.35 L379.99 237.85 L380.93 238.35 L381.87 238.85 L382.82 239.35 L383.76 239.85 L384.70 240.35 L385.64 241.42 L386.58 242.49 L387.53 243.56 L388.47 244.63 L389.41 245.70 L390.35 246.77 L391.29 247.84 L392.24 248.91 L393.18 249.99 L394.12 251.06 L395.06 251.75 L396.00 252.44 L396.95 253.13 L397.89 253.82 L398.83 254.51 L399.77 255.20 L400.71 255.89 L401.66 256.58 L402.60 257.27 L403.54 257.96 L404.48 258.34 L405.42 258.72 L406.37 259.10 L407.31 259.49 L408.25 259.87 L409.19 260.25 L410.13 260.63 L411.08 261.01 L412.02 261.40 L412.96 261.78 L413.90 262.00 L414.84 262.22 L415.79 262.44 L416.73 262.66 L417.67 262.88 L418.61 263.10 L419.55 263.32 L420.50 263.54 L421.44 263.77 L422.38 263.99 L423.32 264.14 L424.26 264.30 L425.21 264.46 L426.15 264.61 L427.09 264.77 L428.03 264.92 L428.97 265.08 L429.92 265.24 L430.86 265.39 L431.80 265.55 L432.74 265.68 L433.68 265.82 L434.63 265.95 L435.57 266.08 L436.51 266.20 L437.45 266.32 L438.39 266.44 L439.34 266.56 L440.28 266.68 L441.22 266.79 L442.16 266.91 L443.10 267.02 L444.05 267.13 L444.99 267.24 L445.93 267.34 L446.87 267.45 L447.81 267.55 L448.76 267.65 L449.70 267.75 L450.64 267.85 L451.58 267.95 L452.52 268.04 L453.47 268.14 L454.41 268.23 L455.35 268.32 L456.29 268.41 L457.23 268.49 L458.18 268.58 L459.12 268.66 L460.06 268.74 L461.00 268.82 L461.94 268.90 L462.89 268.98 L463.83 269.05 L464.77 269.13 L465.71 269.20 L466.65 269.26 L467.60 269.33 L468.54 269.40 L469.48 269.46 L470.42 269.52 L471.36 269.58 L472.31 269.63 L473.25 269.69 L474.19 269.74 L475.13 269.79 L476.07 269.85 L477.02 269.89 L477.96 269.94 L478.90 269.99 L479.84 270.03 L480.78 270.07 L481.73 270.12 L482.67 270.16 L483.61 270.19 L484.55 270.23 L485.49 270.27 L486.44 270.30 L487.38 270.34 L488.32 270.37 L489.26 270.40 L490.20 270.43 L491.15 270.46 L492.09 270.49 L493.03 270.52 L493.97 270.54 L494.91 270.57 L495.86 270.59 L496.80 270.62 L497.74 270.64 L498.68 270.66 L499.62 270.68 L500.57 270.70 L501.51 270.72 L502.45 270.74 L503.39 270.76 L504.33 270.77 L505.28 270.79 L506.22 270.80 L507.16 270.82 L508.10 270.83 L509.04 270.85 L509.99 270.86 L510.93 270.87 L511.87 270.88 L512.81 270.89 L513.75 270.90 L514.70 270.91 L515.64 270.92 L516.58 270.93 L517.52 270.94 L518.46 270.95 L519.41 270.95 L520.35 270.96 L521.29 270.97 L522.23 270.98 L523.17 270.98 L524.12 270.99 L525.06 270.99 L526.00 271.00" stroke="#9e0142"/>
</g>
<!-- spines -->
<g stroke="#000" stroke-width="1.7" fill="none" stroke-linecap="butt" stroke-linejoin="miter">
<path d="M55.15 14.2 V283.15 H526.75"/>
</g>
<g stroke="#000" stroke-width="1.6" fill="none">
<path d="M51 34.4 H55.2 M51 81.9 H55.2 M51 129.4 H55.2 M51 177 H55.2 M51 224.5 H55.2 M51 272 H55.2"/>
<path d="M55.2 283 V287.4 M149.4 283 V287.4 M243.6 283 V287.4 M337.8 283 V287.4 M432 283 V287.4 M526 283 V287.4"/>
</g>
<!-- y tick labels -->
<g class="tick" text-anchor="end">
<text x="47.4" y="38.4">10</text>
<text x="47.4" y="86.0">8</text>
<text x="47.4" y="133.5">6</text>
<text x="47.4" y="181.1">4</text>
<text x="47.4" y="228.6">2</text>
<text x="47.4" y="276.1">0</text>
</g>
<!-- x tick labels -->
<g class="tick" text-anchor="middle">
<text x="55.2" y="298.9">400</text>
<text x="149.4" y="298.9">500</text>
<text x="243.6" y="298.9">600</text>
<text x="337.8" y="298.9">700</text>
<text x="432" y="298.9">800</text>
<text x="526" y="298.9">900</text>
</g>
<!-- axis labels -->
<text id="xl" x="239.6" y="316.3" font-size="14.3" textLength="102.4" lengthAdjust="spacing">Wavelength (nm)</text>
<text id="yl" transform="translate(28.4,165.9) rotate(-90)" font-size="19">Q<tspan font-size="12.6" dy="3.9" dx="-0.6" letter-spacing="0.7">ext</tspan></text>
<!-- arrow -->
<path d="M314.3 13.9 L313.6 14 A91.3 110.5 0 0 0 313.6 235 L316 235.1" fill="none" stroke="#000" stroke-width="2.7" stroke-linecap="butt"/>
<path d="M324.9 235 L312.4 231.5 L311.7 239.4 Z" fill="#000"/>
<!-- arc labels -->
<text id="blue" transform="translate(224.8,75.5) rotate(-54)" font-size="13" textLength="51.4" lengthAdjust="spacing" fill="#111">blueshift</text>
<text id="red" transform="translate(232,183.5) rotate(-106.5)" font-size="13" textLength="45.3" lengthAdjust="spacing" fill="#111">redshift</text>
<!-- legend -->
<rect x="437.4" y="20.6" width="83.8" height="105" rx="2.2" ry="2.2" fill="#fff" fill-opacity="0.8" stroke="#d8d8d8" stroke-width="0.9"/>
<text id="lt" x="441.2" y="32.8" font-size="12" textLength="74.8" lengthAdjust="spacing">Gap Thickness</text>
<g stroke-width="2" fill="none">
<path d="M447.4 43.7 H470.3" stroke="#e6f598"/>
<path d="M447.4 58.25 H470.3" stroke="#fee08b"/>
<path d="M447.4 72.8 H470.3" stroke="#fdae61"/>
<path d="M447.4 87.35 H470.3" stroke="#f46d43"/>
<path d="M447.4 101.9 H470.3" stroke="#d53e4f"/>
<path d="M447.4 116.45 H470.3" stroke="#9e0142"/>
</g>
<g font-size="10.3">
<text x="477.4" y="47.2">15nm</text>
<text x="477.4" y="61.75">12.5nm</text>
<text x="477.4" y="76.3">10nm</text>
<text x="477.4" y="90.85">7.5nm</text>
<text x="477.4" y="105.4">5nm</text>
<text x="477.4" y="119.95">2.5nm</text>
</g>
</svg>
</body>
</html>
